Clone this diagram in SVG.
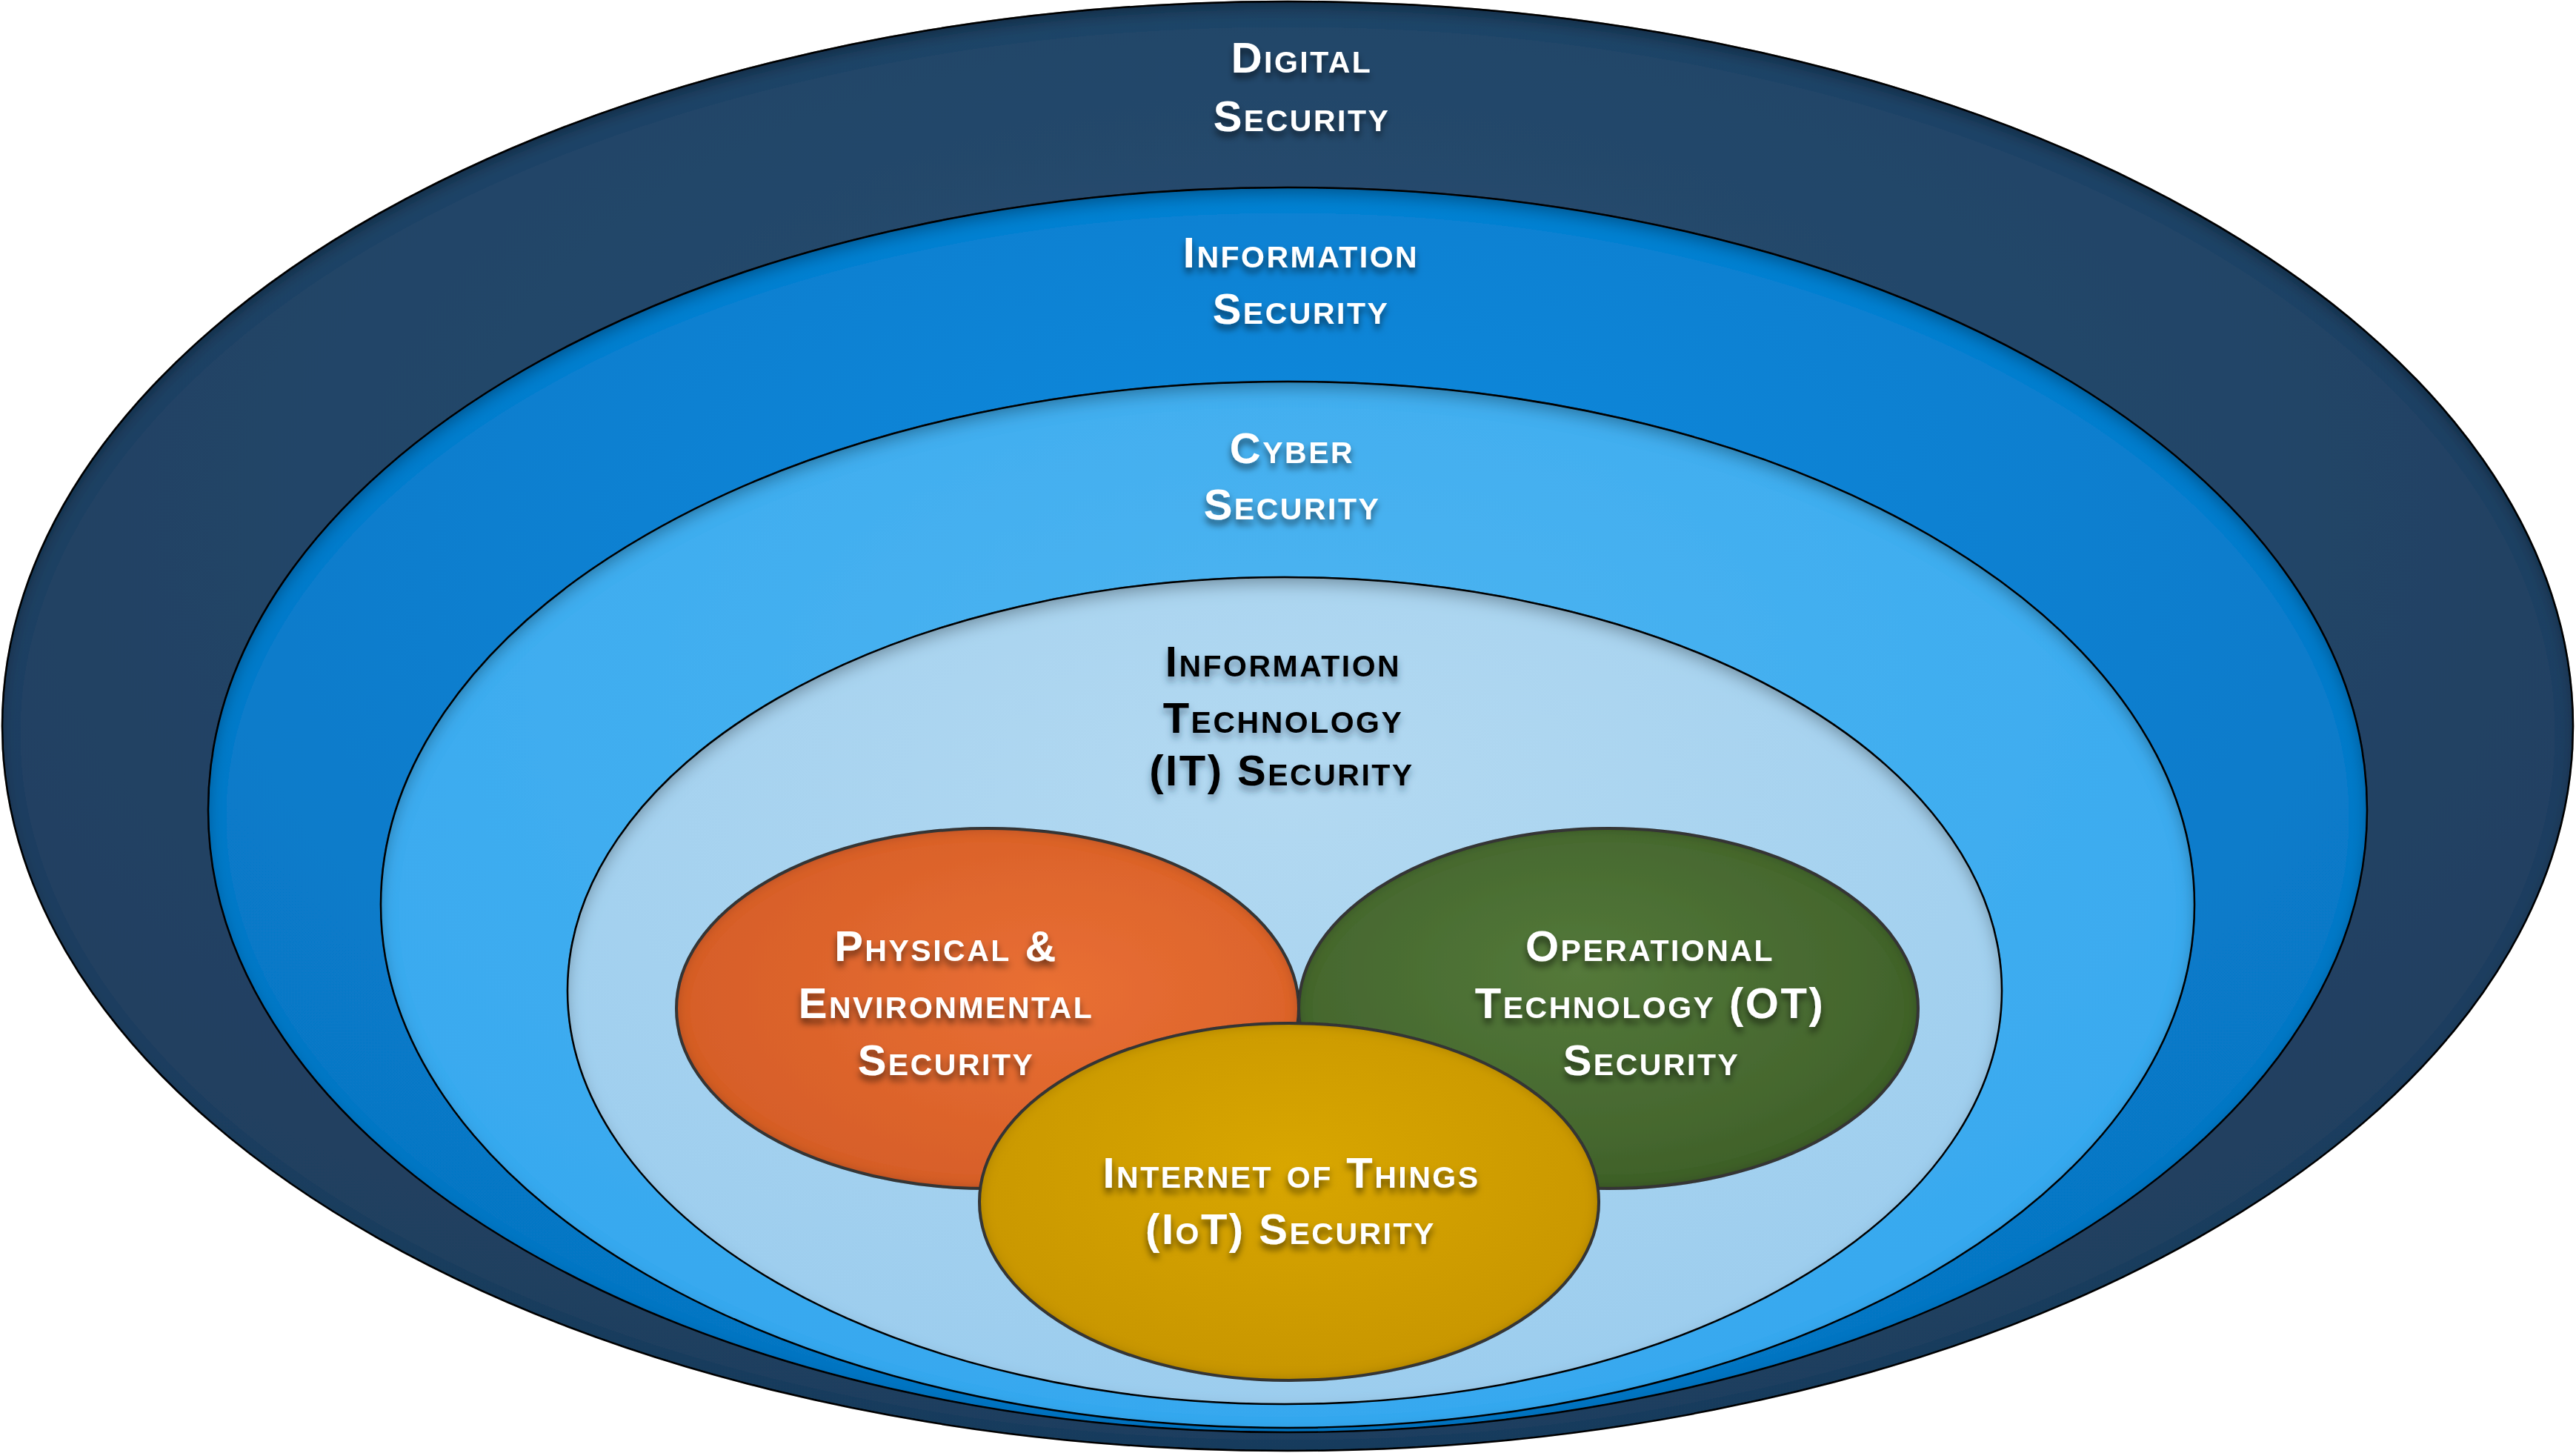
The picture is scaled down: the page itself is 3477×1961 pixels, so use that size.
<svg xmlns="http://www.w3.org/2000/svg" width="3477" height="1961" viewBox="0 0 3477 1961">
  <defs>
    <style>
      .lbl{font-family:"Liberation Sans",Arial,Helvetica,sans-serif;font-weight:bold;font-size:58px;font-variant:small-caps;letter-spacing:2.5px;text-anchor:middle}
      .w{fill:#ffffff;filter:url(#tshadow)}
      .k{fill:#000000;filter:url(#tshadowK)}
      .ring{stroke:#000;stroke-width:2.5;filter:url(#inset)}
      .blob{stroke:#3c3c3c;stroke-width:4;filter:url(#inset2)}
    </style>
    <radialGradient id="gDigital" cx="0.5" cy="0.35" r="0.65">
      <stop offset="0" stop-color="#284e74"/>
      <stop offset="1" stop-color="#1f3e5e"/>
    </radialGradient>
    <radialGradient id="gInfo" cx="0.5" cy="0.3" r="0.7">
      <stop offset="0" stop-color="#0a8ade"/>
      <stop offset="1" stop-color="#0675c2"/>
    </radialGradient>
    <radialGradient id="gCyber" cx="0.5" cy="0.3" r="0.7">
      <stop offset="0" stop-color="#4cb4f0"/>
      <stop offset="1" stop-color="#36a8ef"/>
    </radialGradient>
    <radialGradient id="gIT" cx="0.5" cy="0.25" r="0.75">
      <stop offset="0" stop-color="#b3d9f1"/>
      <stop offset="1" stop-color="#9ccdee"/>
    </radialGradient>
    <radialGradient id="gOrange" cx="0.6" cy="0.45" r="0.6">
      <stop offset="0" stop-color="#e96f33"/>
      <stop offset="1" stop-color="#d65e28"/>
    </radialGradient>
    <radialGradient id="gGreen" cx="0.45" cy="0.4" r="0.6">
      <stop offset="0" stop-color="#54793a"/>
      <stop offset="1" stop-color="#40612a"/>
    </radialGradient>
    <radialGradient id="gYellow" cx="0.5" cy="0.4" r="0.6">
      <stop offset="0" stop-color="#d8a600"/>
      <stop offset="1" stop-color="#c89600"/>
    </radialGradient>
    <filter id="inset" x="-3%" y="-3%" width="106%" height="106%">
      <feFlood flood-color="#000" flood-opacity="0.6" result="f"/>
      <feComposite in="f" in2="SourceAlpha" operator="out" result="outside"/>
      <feOffset in="outside" dx="0" dy="10" result="off"/>
      <feGaussianBlur in="off" stdDeviation="11" result="blur"/>
      <feComposite in="blur" in2="SourceAlpha" operator="in" result="inner"/>
      <feMerge><feMergeNode in="SourceGraphic"/><feMergeNode in="inner"/></feMerge>
    </filter>
    <filter id="inset2" x="-5%" y="-5%" width="110%" height="112%">
      <feFlood flood-color="#000" flood-opacity="0.55" result="f"/>
      <feComposite in="f" in2="SourceAlpha" operator="out" result="outside"/>
      <feGaussianBlur in="outside" stdDeviation="9" result="blur"/>
      <feComposite in="blur" in2="SourceAlpha" operator="in" result="inner"/>
      <feMerge><feMergeNode in="SourceGraphic"/><feMergeNode in="inner"/></feMerge>
    </filter>
    <filter id="tshadow" x="-10%" y="-30%" width="120%" height="180%">
      <feDropShadow dx="0" dy="7" stdDeviation="5" flood-color="#000" flood-opacity="0.55"/>
    </filter>
    <filter id="tshadowK" x="-10%" y="-30%" width="120%" height="180%">
      <feDropShadow dx="0" dy="7" stdDeviation="5" flood-color="#1d3a57" flood-opacity="0.5"/>
    </filter>
  </defs>

  <g id="digital-security">
    <ellipse class="ring" cx="1738" cy="980" rx="1735" ry="978" fill="url(#gDigital)"/>
    <text class="lbl w"><tspan x="1757" y="98">Digital</tspan><tspan x="1757" y="177">Security</tspan></text>
  </g>

  <g id="information-security">
    <ellipse class="ring" cx="1738" cy="1093" rx="1457" ry="840" fill="url(#gInfo)"/>
    <text class="lbl w"><tspan x="1756" y="361">Information</tspan><tspan x="1756" y="437">Security</tspan></text>
  </g>

  <g id="cyber-security">
    <ellipse class="ring" cx="1738" cy="1221" rx="1224" ry="706" fill="url(#gCyber)"/>
    <text class="lbl w"><tspan x="1744" y="625">Cyber</tspan><tspan x="1744" y="701">Security</tspan></text>
  </g>

  <g id="it-security">
    <ellipse class="ring" cx="1734" cy="1337" rx="968" ry="558" fill="url(#gIT)" stroke="#333"/>
    <text class="lbl k"><tspan x="1732" y="913">Information</tspan><tspan x="1732" y="989">Technology</tspan><tspan x="1730" y="1060">(IT) Security</tspan></text>
  </g>

  <g id="physical-environmental-security">
    <ellipse class="blob" cx="1333" cy="1361" rx="420" ry="243" fill="url(#gOrange)"/>
    <text class="lbl w"><tspan x="1277" y="1297">Physical &amp;</tspan><tspan x="1277" y="1374">Environmental</tspan><tspan x="1277" y="1451">Security</tspan></text>
  </g>

  <g id="ot-security">
    <ellipse class="blob" cx="2171" cy="1361" rx="418" ry="243" fill="url(#gGreen)"/>
    <text class="lbl w"><tspan x="2227" y="1297">Operational</tspan><tspan x="2227" y="1374">Technology (OT)</tspan><tspan x="2229" y="1451">Security</tspan></text>
  </g>

  <g id="iot-security">
    <ellipse class="blob" cx="1740" cy="1622" rx="418" ry="241" fill="url(#gYellow)"/>
    <text class="lbl w"><tspan x="1743" y="1603">Internet of Things</tspan><tspan x="1742" y="1679">(IoT) Security</tspan></text>
  </g>

  <g id="connectors"/>
</svg>
